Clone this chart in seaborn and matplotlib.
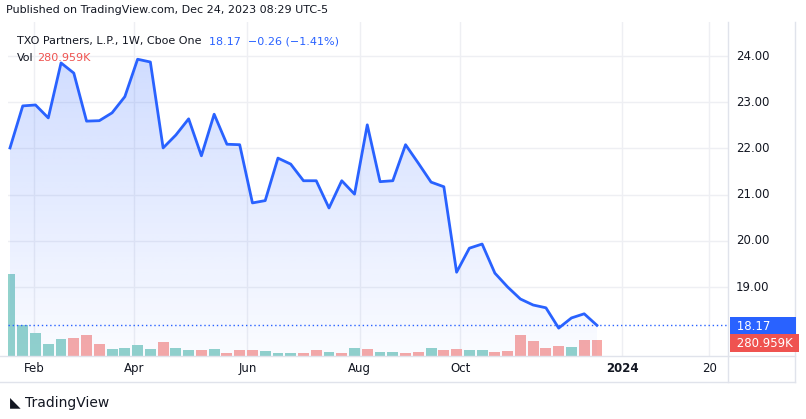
import numpy as np
import pandas as pd
import seaborn as sns
import matplotlib.pyplot as plt

# weekly closes
price = [22.01, 22.92, 22.94, 22.66, 23.85, 23.63, 22.59, 22.60, 22.77, 23.12,
         23.93, 23.87, 22.01, 22.29, 22.64, 21.84, 22.74, 22.09, 22.08, 20.82,
         20.87, 21.79, 21.66, 21.30, 21.30, 20.71, 21.30, 21.01, 22.51, 21.28,
         21.30, 22.08, 21.68, 21.27, 21.17, 19.32, 19.84, 19.93, 19.30, 19.00,
         18.74, 18.61, 18.55, 18.11, 18.33, 18.42, 18.17]
# weekly volume (thousands), up = close >= open
volume = [1440, 544, 408, 210, 298, 320, 368, 210, 122, 140, 193, 122, 245, 140,
          105, 105, 122, 53, 105, 105, 88, 53, 53, 53, 105, 70, 53, 140, 122,
          70, 70, 53, 70, 140, 105, 122, 105, 105, 70, 88, 368, 263, 140, 175,
          158, 281, 281]
up = [1, 1, 1, 1, 1, 0, 0, 0, 1, 1, 1, 1, 0, 1, 1, 0, 1, 0, 0, 0, 1, 1, 1,
      0, 0, 1, 0, 1, 0, 1, 1, 0, 0, 1, 0, 0, 1, 1, 0, 0, 0, 0, 0, 0, 1, 0, 0]
month_labels = ['Feb', 'Apr', 'Jun', 'Aug', 'Oct', '2024', '20']
month_pos = [1.9, 9.7, 18.6, 27.4, 35.3, 48.0, 54.8]
price_ticks = [19, 20, 21, 22, 23, 24]

df = pd.DataFrame({'i': np.arange(len(price)), 'price': price})

W, H = 806, 419
fig = plt.figure(figsize=(W / 100, H / 100), dpi=100)
L, R, T, B = 8, 728, 22, 356
ax = fig.add_axes([L / W, 1 - B / H, (R - L) / W, (B - T) / H])
ax2 = ax.twinx()
ax.set_zorder(2); ax.patch.set_visible(False)

px = 12.76
x0 = -(10 - L) / px
ax.set_xlim(x0, x0 + (R - L) / px)
ax.set_ylim(24 - (B - 56) / 46.2, 24 + (56 - T) / 46.2)
ax2.set_ylim(0, (B - T) * 17.5)

# grid
for p in month_pos:
    ax2.axvline(p, color='#eeeff3', lw=1, zorder=0)
for t in price_ticks:
    ax2.axhline((t - ax.get_ylim()[0]) / (ax.get_ylim()[1] - ax.get_ylim()[0]) * ax2.get_ylim()[1],
                color='#eeeff3', lw=1, zorder=0)

# volume bars
colors = ['#92d2cc' if u else '#f7a9a7' for u in up]
ax2.bar(df['i'], volume, width=0.85, color=colors, zorder=1)

# gradient fill under price
poly = ax.fill_between(df['i'], price, ax.get_ylim()[0], color='none')
grad = np.linspace(0.22, 0.02, 256).reshape(-1, 1)
img = np.zeros((256, 1, 4))
img[..., 0], img[..., 1], img[..., 2] = 41 / 255, 98 / 255, 1.0
img[..., 3] = grad
im = ax.imshow(img, aspect='auto', extent=[0, len(price) - 1, ax.get_ylim()[0], max(price)],
               origin='upper', zorder=1)
im.set_clip_path(poly.get_paths()[0], transform=ax.transData)
ax.set_xlim(x0, x0 + (R - L) / px)

sns.lineplot(data=df, x='i', y='price', ax=ax, color='#2962ff', lw=2, zorder=3)
ax.axhline(price[-1], color='#2962ff', lw=1, ls=(0, (1, 2)), zorder=3)

for a in (ax, ax2):
    a.set_xlabel(''); a.set_ylabel('')
    a.set_yticks([]); a.set_xticks([])
    for s in a.spines.values():
        s.set_visible(False)

fs = 8.5
for lab, p in zip(month_labels, month_pos):
    fig.text((L + (p - x0) * px) / W, 1 - 368 / H, lab, ha='center', va='center',
             fontsize=fs, color='#131722', fontweight='bold' if lab == '2024' else 'normal')
for t in price_ticks:
    y = 56 + (24 - t) * 46.2
    fig.text(736 / W, 1 - y / H, f'{t:.2f}', ha='left', va='center', fontsize=fs, color='#131722')

# right-side value labels
fig.text(733 / W, 1 - 326 / H, f' {price[-1]:.2f}      ', ha='left', va='center', fontsize=fs,
         color='white', bbox=dict(boxstyle='square,pad=0.25', fc='#2962ff', ec='none'))
fig.text(733 / W, 1 - 343 / H, ' 280.959K ', ha='left', va='center', fontsize=fs,
         color='white', bbox=dict(boxstyle='square,pad=0.25', fc='#ef5350', ec='none'))

# frame lines
fig.add_artist(plt.Line2D([0, 795 / W], [1 - B / H] * 2, color='#e0e3eb', lw=1))
fig.add_artist(plt.Line2D([R / W] * 2, [1 - 22 / H, 1 - 382 / H], color='#e0e3eb', lw=1))
fig.add_artist(plt.Line2D([0, 795 / W], [1 - 382 / H] * 2, color='#e0e3eb', lw=1))
fig.add_artist(plt.Line2D([795 / W] * 2, [1 - 22 / H, 1 - 382 / H], color='#e0e3eb', lw=1))

# header / legend texts
fig.text(6 / W, 1 - 10 / H, 'Published on TradingView.com, Dec 24, 2023 08:29 UTC-5',
         fontsize=8, color='#131722', va='center')
t1 = fig.text(17 / W, 1 - 41 / H, 'TXO Partners, L.P., 1W, Cboe One', fontsize=8,
              color='#131722', va='center')
fig.canvas.draw()
x_end = t1.get_window_extent().x1
fig.text((x_end + 7) / W, 1 - 41 / H, '18.17  \u22120.26 (\u22121.41%)', fontsize=8,
         color='#2962ff', va='center')
fig.text(17 / W, 1 - 58 / H, 'Vol', fontsize=8, color='#131722', va='center')
fig.text(37 / W, 1 - 58 / H, '280.959K', fontsize=8, color='#ef5350', va='center')
fig.text(10 / W, 1 - 403 / H, '\u25e3 TradingView', fontsize=10, color='#131722',
         va='center')

fig.savefig('out.png', dpi=100)
